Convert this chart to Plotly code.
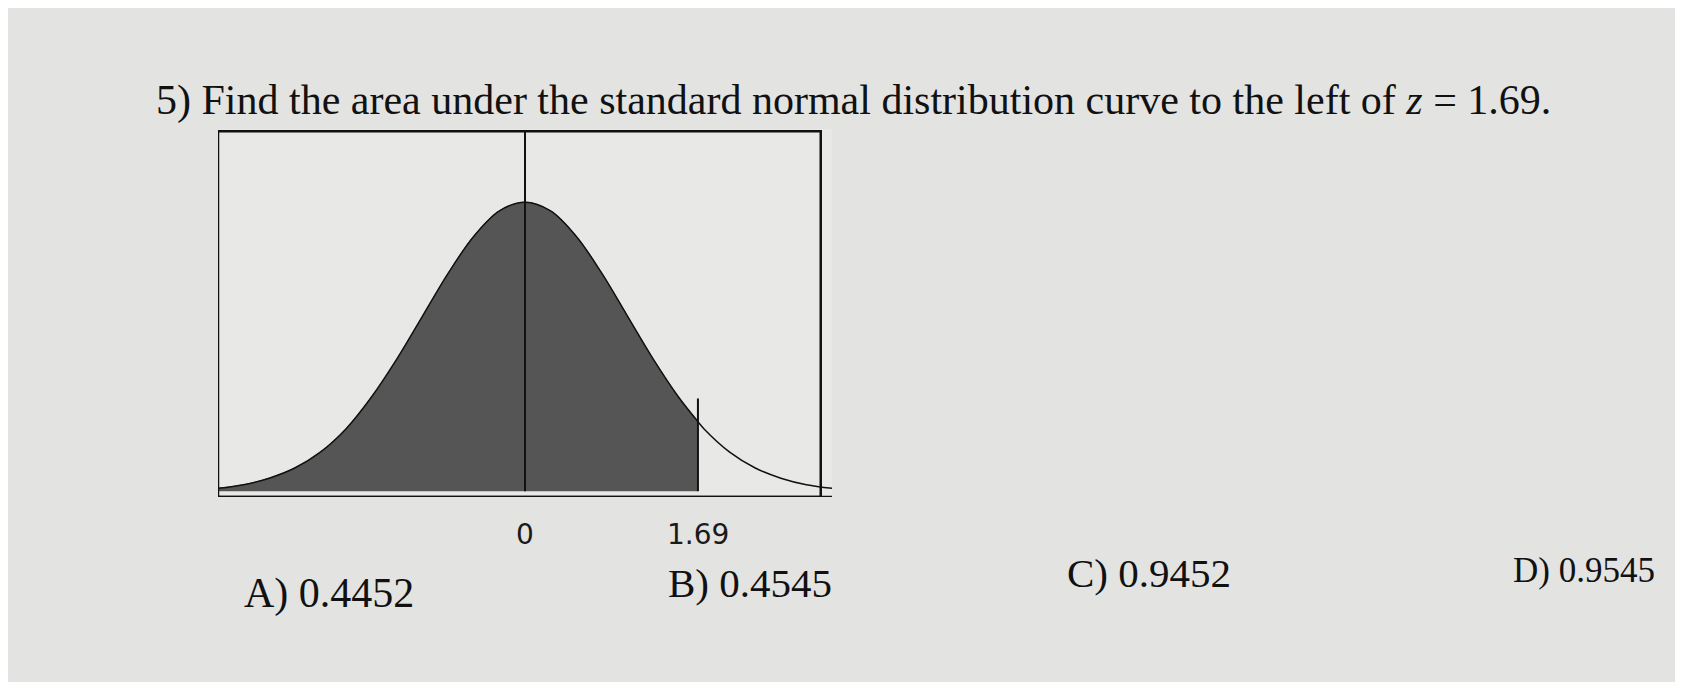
import plotly.graph_objects as go

# values (curve height at z)
z_vals = [-3.0, -2.75, -2.5, -2.25, -2.0, -1.75, -1.5, -1.25, -1.0, -0.75, -0.5, -0.25, 0.0,
          0.25, 0.5, 0.75, 1.0, 1.25, 1.5, 1.69, 1.75, 2.0, 2.25, 2.5, 2.75, 3.0]
dens = [0.004, 0.009, 0.018, 0.032, 0.054, 0.086, 0.130, 0.183, 0.242, 0.301, 0.352, 0.387, 0.399,
        0.387, 0.352, 0.301, 0.242, 0.183, 0.130, 0.096, 0.086, 0.054, 0.032, 0.018, 0.009, 0.004]
z_cut = 1.69
tick_labels = ["0", "1.69"]
tick_pos = [0.0, 1.69]
choices = ["A) 0.4452", "B) 0.4545", "C) 0.9452", "D) 0.9545"]

W, H = 1683, 682
L, R, T, B = 210, 824, 121, 489
bg = "#e3e3e1"
n_cut = z_vals.index(z_cut) + 1

def px(x):
    return (x - L) / (R - L)

def py(y):
    return 1 - (y - T) / (B - T)

fig = go.Figure()
fig.add_trace(go.Scatter(x=z_vals[:n_cut], y=dens[:n_cut], fill="tozeroy", mode="lines",
                         line=dict(color="#555555", width=1, shape="spline"),
                         fillcolor="#555555", hoverinfo="skip"))
fig.add_trace(go.Scatter(x=z_vals, y=dens, mode="lines",
                         line=dict(color="#111", width=1.5, shape="spline"), hoverinfo="skip"))

fig.add_shape(type="rect", x0=-3.0, x1=2.89, y0=-0.008, y1=0.497, line=dict(color="#111", width=2.5))
fig.add_shape(type="line", x0=-3.0, x1=3.0, y0=-0.008, y1=-0.008, line=dict(color="#111", width=2.5))
fig.add_shape(type="line", x0=0, x1=0, y0=0.497, y1=0.0, line=dict(color="#111", width=2))
fig.add_shape(type="line", x0=z_cut, x1=z_cut, y0=0.0, y1=0.128, line=dict(color="#111", width=2))

for lab, p in zip(tick_labels, tick_pos):
    fig.add_annotation(x=p, y=py(545), xref="x", yref="paper", text=lab, showarrow=False,
                       font=dict(family="DejaVu Sans", size=28, color="#1a1a1a"))

fig.add_annotation(x=px(146), y=py(67), xref="paper", yref="paper", xanchor="left",
                   text="5) Find the area under the standard normal distribution curve to the left of <i>z</i> = 1.69.",
                   showarrow=False, font=dict(family="Liberation Serif", size=42, color="#111"))
cx = [234, 658, 1057, 1503]
cy = [611, 600, 590, 584]
sizes = [42, 41, 41, 35]
for t, x, y, s in zip(choices, cx, cy, sizes):
    fig.add_annotation(x=px(x), y=py(y), xref="paper", yref="paper", xanchor="left",
                       text=t, showarrow=False, font=dict(family="Liberation Serif", size=s, color="#111"))

fig.update_layout(width=W, height=H, paper_bgcolor=bg, plot_bgcolor="#e8e8e6",
                  margin=dict(l=L, r=W - R, t=T, b=H - B), showlegend=False,
                  xaxis=dict(range=[-3.0, 3.0], visible=False),
                  yaxis=dict(range=[-0.008, 0.5], visible=False))
fig.write_html("out.html")
